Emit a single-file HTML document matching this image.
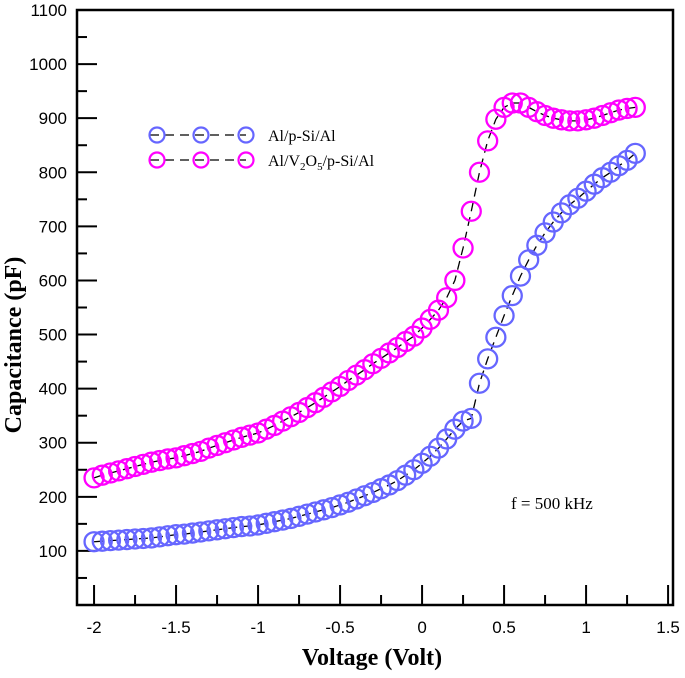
<!DOCTYPE html>
<html><head><meta charset="utf-8"><style>
body{margin:0;background:#fff}
svg text{font-family:"Liberation Sans",Arial,sans-serif}
</style></head><body>
<svg id="chart" width="685" height="673" viewBox="0 0 685 673" xmlns="http://www.w3.org/2000/svg">
<rect x="77" y="10" width="596" height="595" fill="none" stroke="#000" stroke-width="2.5"/>
<g id="axes"></g>
<g id="series"></g>
<text transform="translate(21,345) rotate(-90)" text-anchor="middle" font-size="24" font-weight="bold" style="font-family:'Liberation Serif',serif">Capacitance (pF)</text>
<text x="372" y="665" text-anchor="middle" font-size="24" font-weight="bold" style="font-family:'Liberation Serif',serif">Voltage (Volt)</text>
<text x="511" y="509" font-size="17" style="font-family:'Liberation Serif',serif">f = 500 kHz</text>
<g>
 <g>
  <line x1="150" y1="135" x2="246" y2="135" stroke="#000" stroke-width="1.3" stroke-dasharray="9,6"/>
  <circle cx="157" cy="135" r="7.5" fill="none" stroke="#6666ff" stroke-width="2.2"/>
  <circle cx="201" cy="135" r="7.5" fill="none" stroke="#6666ff" stroke-width="2.2"/>
  <circle cx="246" cy="135" r="7.5" fill="none" stroke="#6666ff" stroke-width="2.2"/>
  <text x="268" y="141" font-size="16" style="font-family:'Liberation Serif',serif">Al/p-Si/Al</text>
 </g>
 <g>
  <line x1="150" y1="160" x2="246" y2="160" stroke="#000" stroke-width="1.3" stroke-dasharray="9,6"/>
  <circle cx="157" cy="160" r="7.5" fill="none" stroke="#ff00ff" stroke-width="2.2"/>
  <circle cx="201" cy="160" r="7.5" fill="none" stroke="#ff00ff" stroke-width="2.2"/>
  <circle cx="246" cy="160" r="7.5" fill="none" stroke="#ff00ff" stroke-width="2.2"/>
  <text x="268" y="166" font-size="16" style="font-family:'Liberation Serif',serif">Al/V<tspan font-size="11" dy="4">2</tspan><tspan dy="-4">O</tspan><tspan font-size="11" dy="4">5</tspan><tspan dy="-4">/p-Si/Al</tspan></text>
 </g>
</g>
</svg>
<script>
const voltage = [-2,-1.95,-1.9,-1.85,-1.8,-1.75,-1.7,-1.65,-1.6,-1.55,-1.5,-1.45,-1.4,-1.35,-1.3,-1.25,-1.2,-1.15,-1.1,-1.05,-1,-0.95,-0.9,-0.85,-0.8,-0.75,-0.7,-0.65,-0.6,-0.55,-0.5,-0.45,-0.4,-0.35,-0.3,-0.25,-0.2,-0.15,-0.1,-0.05,0,0.05,0.1,0.15,0.2,0.25,0.3,0.35,0.4,0.45,0.5,0.55,0.6,0.65,0.7,0.75,0.8,0.85,0.9,0.95,1,1.05,1.1,1.15,1.2,1.25,1.3];
const capAlPSi = [117,118,119,120,121,122,123,124,126,128,130,131,133,135,137,139,141,143,145,146,148,151,154,157,160,164,168,172,176,180,185,190,196,202,208,215,222,230,240,250,262,275,290,307,325,340,345,410,455,495,535,572,608,638,665,688,708,725,740,752,765,778,790,800,812,822,835];
const capAlV2O5 = [235,240,244,248,252,256,260,264,267,270,272,276,280,284,290,295,300,305,310,314,318,325,332,340,348,356,365,374,384,394,404,415,425,435,446,456,466,476,487,497,512,528,545,568,600,660,728,800,858,898,920,928,928,920,912,905,900,897,895,895,897,900,905,910,915,918,920];
const xTicks = [-2,-1.5,-1,-0.5,0,0.5,1,1.5];
const xTickLabels = ['-2','-1.5','-1','-0.5','0','0.5','1','1.5'];
const yTicks = [100,200,300,400,500,600,700,800,900,1000,1100];
const yTickLabels = ['100','200','300','400','500','600','700','800','900','1000','1100'];

const X0=77,X1=673,Y0=605,Y1=10;
const XMIN=-2.104,XMAX=1.53,YMIN=0,YMAX=1100;
const sx=v=>X0+(v-XMIN)/(XMAX-XMIN)*(X1-X0);
const sy=v=>Y0-(v-YMIN)/(YMAX-YMIN)*(Y0-Y1);
const NS='http://www.w3.org/2000/svg';
function mk(tag,attrs,parent){const e=document.createElementNS(NS,tag);for(const k in attrs)e.setAttribute(k,attrs[k]);parent.appendChild(e);return e;}
const axes=document.getElementById('axes');
xTicks.forEach((t,i)=>{
  const x=sx(t);
  const tk=mk('line',{x1:x,x2:x,y1:Y0,y2:Y0-20,stroke:'#000','stroke-width':2},axes);
  
  
  const lb=mk('text',{x:x,y:Y0+28,'text-anchor':'middle','font-size':17},axes);
  lb.textContent=xTickLabels[i];
  
  
  if(i<xTicks.length-1){
    const m=sx(t+0.25);
    const mt=mk('line',{x1:m,x2:m,y1:Y0,y2:Y0-10,stroke:'#000','stroke-width':2},axes);
    
    
  }
});
yTicks.forEach((t,i)=>{
  const y=sy(t);
  const tk=mk('line',{x1:X0,x2:X0+20,y1:y,y2:y,stroke:'#000','stroke-width':2},axes);
  
  
  const lb=mk('text',{x:X0-10,y:y+6,'text-anchor':'end','font-size':17},axes);
  lb.textContent=yTickLabels[i];
  
  
  const m=sy(t-50);
  const mt=mk('line',{x1:X0,x2:X0+10,y1:m,y2:m,stroke:'#000','stroke-width':2},axes);
  
  
});
const series=document.getElementById('series');
function drawSeries(vals,color,name){
  const g=mk('g',{},series);
  
  
  const pts=voltage.map((v,i)=>sx(v)+','+sy(vals[i])).join(' ');
  const pl=mk('polyline',{points:pts,fill:'none',stroke:'#000','stroke-width':1.3,'stroke-dasharray':'9,6'},g);
  
  
  voltage.forEach((v,i)=>{
    const c=mk('circle',{cx:sx(v),cy:sy(vals[i]),r:9.5,fill:'none',stroke:color,'stroke-width':2.3},g);
    
    
  });
}
drawSeries(capAlPSi,'#6666ff','series-al-psi-al');
drawSeries(capAlV2O5,'#ff00ff','series-al-v2o5-psi-al');
</script>
</body></html>
